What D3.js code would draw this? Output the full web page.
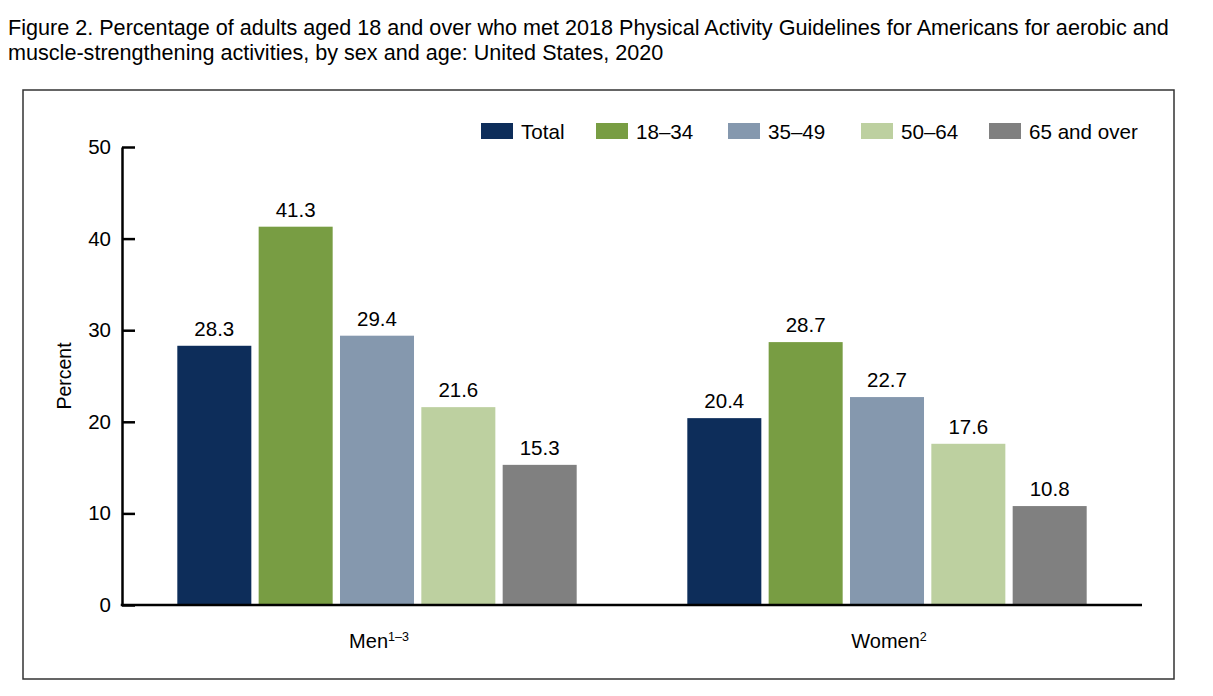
<!DOCTYPE html>
<html lang="en">
<head>
    <meta charset="UTF-8">
    <title>Figure 2</title>
    <script src="https://d3js.org/d3.v7.min.js" charset="utf-8"></script>
    <style>
        body { margin: 0; background: #fff; }
        svg text { font-family: "Liberation Sans", Arial, sans-serif; fill: #000; }
        .axis path, .axis line { stroke: #000; stroke-width: 2.5; fill: none; }
    </style>
</head>
<body>
<script>
    // data
    let groups = ['Men', 'Women'];
    let groupSup = ['1\u20133', '2'];
    let series = ['Total', '18\u201334', '35\u201349', '50\u201364', '65 and over'];
    let colors = ['#0d2d5a', '#789d43', '#8598ae', '#bdd0a0', '#808080'];
    let menValues = [28.3, 41.3, 29.4, 21.6, 15.3];
    let womenValues = [20.4, 28.7, 22.7, 17.6, 10.8];
    let yTicks = [0, 10, 20, 30, 40, 50];
    let titleLines = [
        'Figure 2. Percentage of adults aged 18 and over who met 2018 Physical Activity Guidelines for Americans for aerobic and',
        'muscle-strengthening activities, by sex and age: United States, 2020'
    ];

    let values = [menValues, womenValues];

    let svg = d3.select('body').append('svg').attr('width', 1213).attr('height', 696);

    // title
    svg.append('text')
        .attr('x', 8).attr('y', 35)
        .style('font-size', '21.6px')
        .selectAll('tspan').data(titleLines).enter()
        .append('tspan')
        .attr('x', 8)
        .attr('dy', (d, i) => i === 0 ? 0 : 24.5)
        .text(d => d);

    // frame
    svg.append('rect')
        .attr('x', 23).attr('y', 90)
        .attr('width', 1151).attr('height', 589)
        .attr('fill', 'none')
        .attr('stroke', '#333').attr('stroke-width', 1.5);

    let plotLeft = 122, plotRight = 1142, plotTop = 147, plotBottom = 605;

    let y = d3.scaleLinear().domain([0, 50]).range([plotBottom, plotTop]);
    let x0 = d3.scaleBand().domain(groups).range([plotLeft, plotRight]);
    let x1 = d3.scaleBand().domain(series).range([0, x0.bandwidth()])
        .paddingInner(0.09).paddingOuter(0.68);

    // bars
    let g = svg.selectAll('.group')
        .data(groups).enter()
        .append('g')
        .attr('transform', d => 'translate(' + x0(d) + ',0)');

    g.selectAll('rect')
        .data((d, gi) => values[gi].map((v, i) => ({ key: series[i], v: v, c: colors[i] })))
        .enter()
        .append('rect')
        .attr('x', d => x1(d.key))
        .attr('y', d => y(d.v))
        .attr('width', x1.bandwidth())
        .attr('height', d => plotBottom - y(d.v))
        .attr('fill', d => d.c);

    g.selectAll('.val')
        .data((d, gi) => values[gi].map((v, i) => ({ key: series[i], v: v })))
        .enter()
        .append('text')
        .attr('class', 'val')
        .attr('x', d => x1(d.key) + x1.bandwidth() / 2)
        .attr('y', d => y(d.v) - 10)
        .attr('text-anchor', 'middle')
        .style('font-size', '20.5px')
        .text(d => d.v.toFixed(1));

    // y axis
    let yAxis = d3.axisLeft(y).tickValues(yTicks).tickSizeInner(-13).tickSizeOuter(0).tickPadding(11);
    let yg = svg.append('g')
        .attr('class', 'axis')
        .attr('transform', 'translate(' + plotLeft + ',0)')
        .call(yAxis);
    yg.selectAll('text')
        .style('font-size', '20.5px')
        .style('font-family', '"Liberation Sans", Arial, sans-serif');

    // x axis line
    svg.append('line')
        .attr('x1', plotLeft - 1.25).attr('x2', plotRight)
        .attr('y1', plotBottom).attr('y2', plotBottom)
        .attr('stroke', '#000').attr('stroke-width', 2.5);

    // group labels
    let lab = svg.selectAll('.glab')
        .data(groups).enter()
        .append('text')
        .attr('class', 'glab')
        .attr('x', d => x0(d) + x0.bandwidth() / 2 + 2)
        .attr('y', 648)
        .attr('text-anchor', 'middle')
        .style('font-size', '20px');
    lab.append('tspan').text(d => d);
    lab.append('tspan')
        .attr('dy', -7)
        .style('font-size', '12.5px')
        .text((d, i) => groupSup[i]);

    // y label
    svg.append('text')
        .attr('transform', 'translate(71,' + (plotTop + plotBottom) / 2 + ') rotate(-90)')
        .attr('text-anchor', 'middle')
        .style('font-size', '19.5px')
        .text('Percent');

    // legend
    let legendX = [481, 596, 728, 861, 989];
    let leg = svg.selectAll('.leg')
        .data(series).enter()
        .append('g')
        .attr('transform', (d, i) => 'translate(' + legendX[i] + ',123)');
    leg.append('rect')
        .attr('width', 32).attr('height', 16)
        .attr('fill', (d, i) => colors[i]);
    leg.append('text')
        .attr('x', 40).attr('y', 16)
        .style('font-size', '20.6px')
        .text(d => d);
</script>
</body>
</html>
